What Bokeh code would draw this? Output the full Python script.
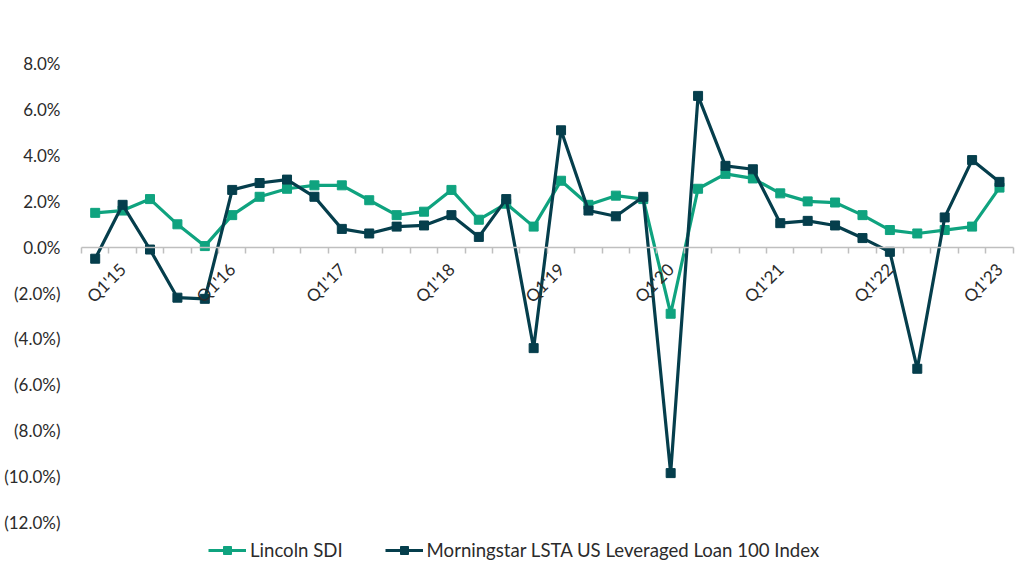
import math
from bokeh.plotting import figure
from bokeh.models import (Range1d, LinearAxis, FixedTicker, Legend, LegendItem, ColumnDataSource)
from bokeh.embed import file_html
from bokeh.resources import INLINE

quarters = ["Q4'14",
            "Q1'15", "Q2'15", "Q3'15", "Q4'15",
            "Q1'16", "Q2'16", "Q3'16", "Q4'16",
            "Q1'17", "Q2'17", "Q3'17", "Q4'17",
            "Q1'18", "Q2'18", "Q3'18", "Q4'18",
            "Q1'19", "Q2'19", "Q3'19", "Q4'19",
            "Q1'20", "Q2'20", "Q3'20", "Q4'20",
            "Q1'21", "Q2'21", "Q3'21", "Q4'21",
            "Q1'22", "Q2'22", "Q3'22", "Q4'22",
            "Q1'23"]

lincoln_sdi = [1.5, 1.6, 2.1, 1.0, 0.05, 1.4, 2.2, 2.55, 2.7, 2.7, 2.05, 1.4, 1.55, 2.5,
               1.2, 1.9, 0.9, 2.9, 1.85, 2.25, 2.1, -2.9, 2.55, 3.2, 3.0, 2.35, 2.0, 1.95,
               1.4, 0.75, 0.6, 0.75, 0.9, 2.6]

lsta_index = [-0.5, 1.85, -0.1, -2.2, -2.25, 2.5, 2.8, 2.95, 2.2, 0.8, 0.6, 0.9, 0.95, 1.4,
              0.45, 2.1, -4.4, 5.1, 1.6, 1.35, 2.2, -9.85, 6.6, 3.55, 3.4, 1.05, 1.15, 0.95,
              0.4, -0.2, -5.3, 1.3, 3.8, 2.85]

y_ticks = [-12, -10, -8, -6, -4, -2, 0, 2, 4, 6, 8]
y_tick_labels = ["(12.0%)", "(10.0%)", "(8.0%)", "(6.0%)", "(4.0%)", "(2.0%)",
                 "0.0%", "2.0%", "4.0%", "6.0%", "8.0%"]

GREEN = "#0FA37F"
DARK = "#053E4C"
FONT = "Lato"
TEXT = "#2b2b2b"

W, H = 1016, 565
n = len(quarters)
xs = list(range(n))
src = ColumnDataSource(dict(x=xs, sdi=lincoln_sdi, lsta=lsta_index))

# layout geometry (pixels): plot area spans x 81..1012.7, y of 8% at 63.3, 22.93 px per 1%
X0, X1 = 81.0, 1012.7
ppx = (X1 - X0) / n
x_start = -0.5 - X0 / ppx
x_end = (n - 0.5) + (W - X1) / ppx
Y8, ppy = 63.3, 22.93
y_hi = 8 + Y8 / ppy
y_lo = 8 - (H - Y8) / ppy

p = figure(width=W, height=H, output_backend="svg", toolbar_location=None, title=None,
           x_range=Range1d(x_start, x_end), y_range=Range1d(y_lo, y_hi),
           min_border=0, min_border_left=0, min_border_right=0,
           min_border_top=0, min_border_bottom=0,
           x_axis_location=None, y_axis_location=None)
p.outline_line_color = None
p.xgrid.visible = False
p.ygrid.visible = False

# Y axis (labels right of the plot-area's left edge)
yax = LinearAxis(ticker=FixedTicker(ticks=y_ticks), fixed_location=-0.5,
                 major_label_overrides={t: l for t, l in zip(y_ticks, y_tick_labels)})
yax.axis_line_color = None
yax.major_tick_line_color = None
yax.minor_tick_line_color = None
yax.major_label_standoff = 15
yax.major_label_text_font = FONT
yax.major_label_text_font_size = "17px"
yax.major_label_text_color = TEXT
p.add_layout(yax, "left")

# X axis line with boundary ticks at y = 0
bticks = [i - 0.5 for i in range(n + 1)]
xax = LinearAxis(ticker=FixedTicker(ticks=bticks), fixed_location=0, bounds=(-0.5, n - 0.5),
                 major_label_overrides={t: "" for t in bticks})
xax.axis_line_color = "#BFBFBF"
xax.axis_line_width = 1.5
xax.major_tick_line_color = "#BFBFBF"
xax.major_tick_line_width = 1.5
xax.major_tick_in = 0
xax.major_tick_out = 6
xax.minor_tick_line_color = None
xax.major_label_text_font_size = "1px"
p.add_layout(xax, "below")

# X category labels
lab_idx = [i for i, q in enumerate(quarters) if q.startswith("Q1")]
lax = LinearAxis(ticker=FixedTicker(ticks=lab_idx), fixed_location=0,
                 major_label_overrides={i: quarters[i] for i in lab_idx})
lax.axis_line_color = None
lax.major_tick_line_color = None
lax.minor_tick_line_color = None
lax.major_label_orientation = math.pi / 4
lax.major_label_standoff = 13
lax.major_label_text_font = FONT
lax.major_label_text_font_size = "17px"
lax.major_label_text_color = TEXT
p.add_layout(lax, "below")

r1l = p.line("x", "sdi", source=src, line_color=GREEN, line_width=3.2)
r1m = p.scatter("x", "sdi", source=src, marker="square", size=9, fill_color=GREEN, line_color=GREEN)
r2l = p.line("x", "lsta", source=src, line_color=DARK, line_width=3.2)
r2m = p.scatter("x", "lsta", source=src, marker="square", size=9, fill_color=DARK, line_color=DARK)

legend = Legend(items=[LegendItem(label="Lincoln SDI", renderers=[r1l, r1m]),
                       LegendItem(label="Morningstar LSTA US Leveraged Loan 100 Index", renderers=[r2l, r2m])],
                location=(208, 4), orientation="horizontal")
legend.background_fill_alpha = 0
legend.border_line_color = None
legend.padding = 0
legend.margin = 0
legend.spacing = 42
legend.glyph_width = 38
legend.label_standoff = 4
legend.label_text_font = FONT
legend.label_text_font_size = "18.6px"
legend.label_text_color = TEXT
p.add_layout(legend, "center")

open("out.html", "w").write(file_html(p, INLINE))
